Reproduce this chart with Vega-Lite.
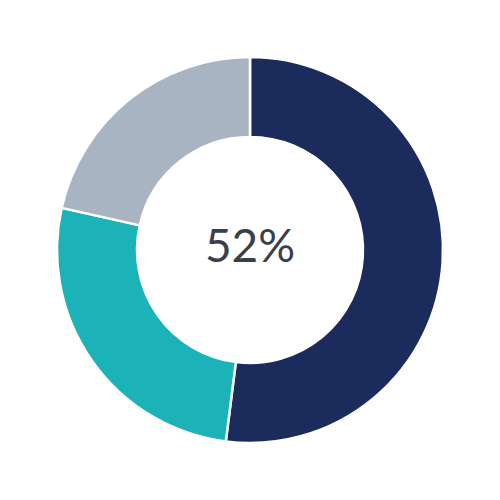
{
  "$schema": "https://vega.github.io/schema/vega-lite/v6.json",
  "width": 500,
  "height": 500,
  "autosize": {"type": "fit", "contains": "padding"},
  "padding": 0,
  "background": "white",
  "view": {"stroke": null},
  "data": {"values": [
    {"category": "A", "value": 52, "order": 1},
    {"category": "B", "value": 26.5, "order": 2},
    {"category": "C", "value": 21.5, "order": 3}
  ]},
  "layer": [
    {
      "mark": {"type": "arc", "outerRadius": 193, "innerRadius": 113, "stroke": "white", "strokeWidth": 2.5},
      "encoding": {
        "theta": {"field": "value", "type": "quantitative", "stack": true},
        "order": {"field": "order", "type": "quantitative"},
        "color": {
          "field": "category", "type": "nominal",
          "scale": {"domain": ["A", "B", "C"], "range": ["#1b2b5b", "#1bb3b8", "#a9b4c3"]},
          "legend": null
        }
      }
    },
    {
      "data": {"values": [{"label": "52%"}]},
      "mark": {"type": "text", "font": "Lato", "fontSize": 46, "color": "#3a404b", "align": "center", "baseline": "middle", "dy": -2},
      "encoding": {"text": {"field": "label"}}
    }
  ]
}
